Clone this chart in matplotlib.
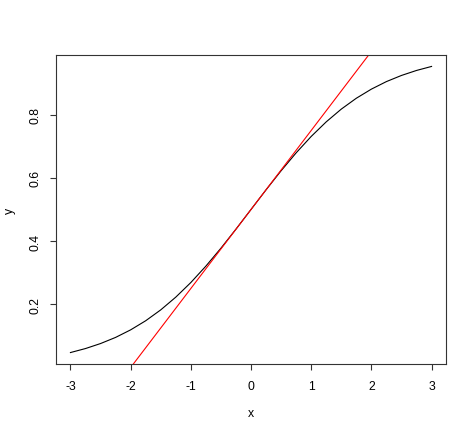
import numpy as np
import matplotlib
matplotlib.use("Agg")
import matplotlib.pyplot as plt

plt.rcParams['font.family'] = ['Liberation Sans', 'DejaVu Sans']

# curve values
x = [-3.0, -2.75, -2.5, -2.25, -2.0, -1.75, -1.5, -1.25, -1.0, -0.75, -0.5, -0.25,
     0.0, 0.25, 0.5, 0.75, 1.0, 1.25, 1.5, 1.75, 2.0, 2.25, 2.5, 2.75, 3.0]
y = [0.0474, 0.0601, 0.0759, 0.0953, 0.1192, 0.1480, 0.1824, 0.2227, 0.2689, 0.3208,
     0.3775, 0.4378, 0.5, 0.5622, 0.6225, 0.6792, 0.7311, 0.7773, 0.8176, 0.8520,
     0.8808, 0.9047, 0.9241, 0.9399, 0.9526]

# red line endpoints (runs past the box, gets clipped)
line_x = [-3.5, 3.5]
line_y = [-0.375, 1.375]

xticks = [-3, -2, -1, 0, 1, 2, 3]
yticks = [0.2, 0.4, 0.6, 0.8]

W, H = 474, 435
fig = plt.figure(figsize=(W / 100, H / 100), dpi=100)
ax = fig.add_axes([56 / W, (H - 365) / H, (446 - 56) / W, (365 - 56) / H])

ax.plot(x, y, color='k', lw=0.8)
ax.plot(line_x, line_y, color='red', lw=0.8)

ax.set_xlim(-3.24, 3.24)
ax.set_ylim(0.0112, 0.9888)
ax.set_xticks(xticks)
ax.set_xticklabels([str(t) for t in xticks])
ax.set_yticks(yticks)
ax.set_yticklabels([str(t) for t in yticks], rotation=90, va='center')

for s in ax.spines.values():
    s.set_linewidth(0.8)
    s.set_color('#333333')
ax.tick_params(direction='out', length=4.3, width=0.8, color='#333333', labelsize=8.8)
ax.tick_params(axis='x', pad=7)
ax.tick_params(axis='y', pad=6.3)

ax.set_xlabel('x', fontsize=8.8, va='center')
ax.set_ylabel('y', fontsize=8.8, va='center', rotation=90)
ax.xaxis.set_label_coords(0.5, -49 / 309)
ax.yaxis.set_label_coords(-46 / 390, 0.5)

fig.savefig('out.png', dpi=100)
